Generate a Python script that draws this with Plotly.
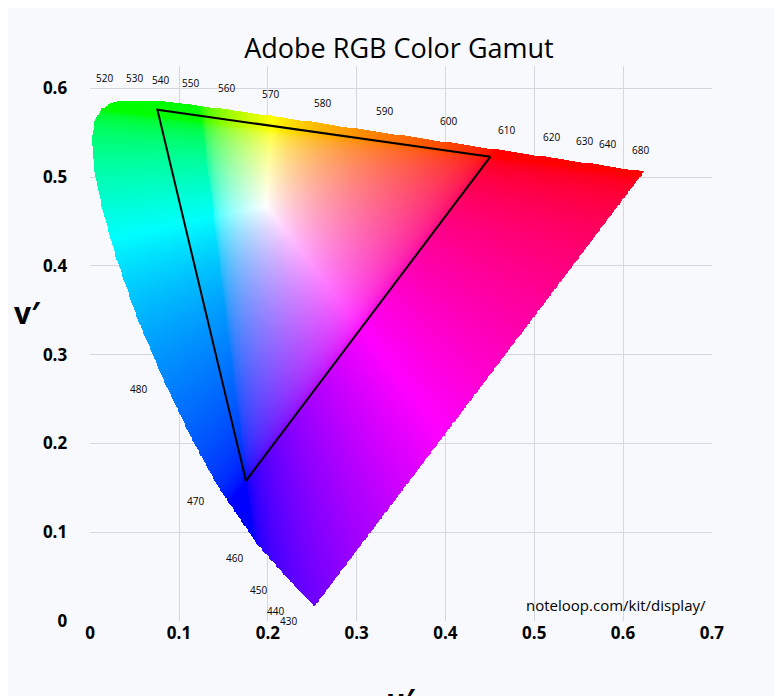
import numpy as np
import plotly.graph_objects as go

# spectral locus (CIE 1976 u'v'), nm
wl = [420, 440, 450, 460, 470, 475, 480, 485, 490, 495, 500, 505, 510, 515, 520, 525,
      530, 540, 550, 560, 570, 580, 590, 600, 610, 620, 630, 640, 680, 700]
locus_u = [0.2522, 0.2347, 0.2161, 0.1877, 0.1441, 0.1147, 0.0828, 0.0521, 0.0282, 0.0119,
           0.0035, 0.0014, 0.0046, 0.0123, 0.0231, 0.0360, 0.0501, 0.0792, 0.1127, 0.1531,
           0.2026, 0.2623, 0.3315, 0.4035, 0.4692, 0.5203, 0.5565, 0.5830, 0.6199, 0.6234]
locus_v = [0.0169, 0.0350, 0.0549, 0.0871, 0.1510, 0.2044, 0.2708, 0.3427, 0.4117, 0.4698,
           0.5131, 0.5432, 0.5638, 0.5770, 0.5837, 0.5861, 0.5868, 0.5856, 0.5821, 0.5766,
           0.5694, 0.5604, 0.5501, 0.5393, 0.5296, 0.5219, 0.5165, 0.5125, 0.5070, 0.5065]

# wavelength labels
label_text = ["420", "430", "440", "450", "460", "470", "480", "490", "500", "510", "520", "530",
              "540", "550", "560", "570", "580", "590", "600", "610", "620", "630", "640", "680"]
label_u = [0.232, 0.223, 0.209, 0.190, 0.163, 0.119, 0.054, -0.002, -0.028, -0.029, 0.016, 0.050,
           0.079, 0.113, 0.153, 0.203, 0.262, 0.331, 0.403, 0.469, 0.520, 0.557, 0.583, 0.620]
label_v = [-0.011, 0.000, 0.011, 0.035, 0.071, 0.135, 0.261, 0.403, 0.513, 0.573, 0.611, 0.611,
           0.609, 0.606, 0.600, 0.593, 0.583, 0.574, 0.563, 0.553, 0.545, 0.540, 0.537, 0.530]

# Adobe RGB primaries R, G, B
gamut_u = [0.4507, 0.0757, 0.1754]
gamut_v = [0.5229, 0.5757, 0.1579]

x_ticks = [0, 0.1, 0.2, 0.3, 0.4, 0.5, 0.6, 0.7]
y_ticks = [0, 0.1, 0.2, 0.3, 0.4, 0.5, 0.6]

# colour fill image
nx, ny = 640, 600
us = np.linspace(0, 0.63, nx)
vs = np.linspace(0, 0.59, ny)
U, V = np.meshgrid(us, vs)
poly_u = np.array(locus_u)
poly_v = np.array(locus_v)
inside = np.zeros(U.shape, bool)
j = len(poly_u) - 1
for i in range(len(poly_u)):
    cond = ((poly_v[i] > V) != (poly_v[j] > V))
    xint = (poly_u[j] - poly_u[i]) * (V - poly_v[i]) / (poly_v[j] - poly_v[i] + 1e-12) + poly_u[i]
    inside ^= cond & (U < xint)
    j = i
d = 6 * U - 16 * V + 12
x = 9 * U / d
y = np.maximum(4 * V / d, 1e-4)
X = x / y
Z = (1 - x - y) / y
Y = np.ones_like(X)
M = np.array([[3.2406, -1.5372, -0.4986], [-0.9689, 1.8758, 0.0415], [0.0557, -0.2040, 1.0570]])
rgb = np.clip(np.stack([X, Y, Z], -1) @ M.T, 0, None)
rgb = rgb / rgb.max(axis=-1, keepdims=True).clip(1e-6)
rgb = np.where(rgb <= 0.0031308, 12.92 * rgb, 1.055 * rgb ** (1 / 2.4) - 0.055)
img = np.zeros((ny, nx, 4), dtype=np.uint8)
img[..., :3] = (rgb * 255).clip(0, 255).astype(np.uint8)
img[..., 3] = np.where(inside, 255, 0)

fig = go.Figure()
fig.add_trace(go.Image(z=img, colormodel="rgba", x0=us[0], dx=us[1] - us[0],
                       y0=vs[0], dy=vs[1] - vs[0], hoverinfo="skip"))
fig.add_trace(go.Scatter(x=gamut_u + gamut_u[:1], y=gamut_v + gamut_v[:1], mode="lines",
                         line=dict(color="black", width=2), hoverinfo="skip"))
for t, lu, lv in zip(label_text, label_u, label_v):
    fig.add_annotation(text=t, x=lu, y=lv, xref="x", yref="y", showarrow=False,
                       font=dict(family="Open Sans", size=10, color="black"))

axis_common = dict(showgrid=True, gridcolor="#d4d8de", gridwidth=1, zeroline=False,
                   showline=False, ticks="", automargin=False,
                   tickfont=dict(family="Open Sans", size=17, color="black"))
fig.update_xaxes(range=[0, 0.7], tickvals=x_ticks,
                 ticktext=[f"<b>{v:g}</b>" for v in x_ticks], **axis_common)
fig.update_yaxes(range=[0, 0.625], tickvals=y_ticks,
                 ticktext=[f"<b>{v:g}</b>" for v in y_ticks], ticklabelstandoff=22, **axis_common)
fig.add_annotation(text="<b>u′</b>", x=0.5, y=-0.1, xref="paper", yref="paper", showarrow=False,
                   yanchor="top", font=dict(family="Open Sans", size=30, color="black"))
fig.add_annotation(text="<b>v′</b>", x=-0.1, y=0.555, xref="paper", yref="paper", showarrow=False,
                   xanchor="center", font=dict(family="Open Sans", size=30, color="black"))
fig.add_annotation(text="noteloop.com/kit/display/", x=0.70, y=0.0, xref="x", yref="y",
                   xanchor="right", yanchor="bottom", showarrow=False, yshift=4, xshift=-4,
                   font=dict(family="Open Sans", size=15, color="black"))
fig.update_layout(
    width=782, height=696,
    title=dict(text="Adobe RGB Color Gamut", x=0.5, y=0.955, xanchor="center",
               font=dict(family="Open Sans", size=27, color="black")),
    plot_bgcolor="#f7f9fc", paper_bgcolor="#f7f9fc",
    margin=dict(l=82, r=78, t=58, b=83, autoexpand=False),
    showlegend=False,
)
fig.write_html("out.html")
